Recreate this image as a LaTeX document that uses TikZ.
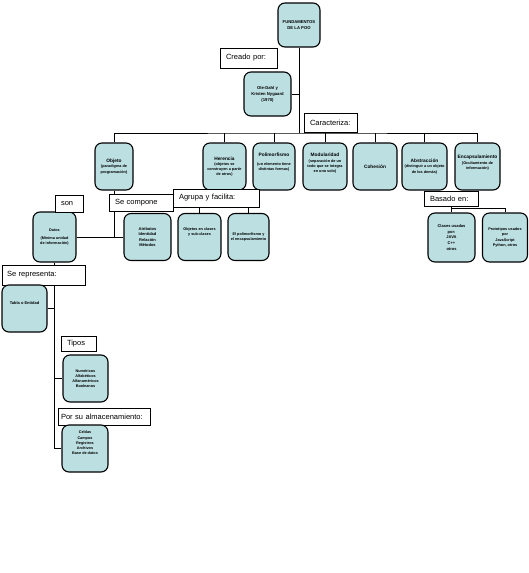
\documentclass[tikz,border=0pt]{standalone}
\usepackage{fontspec}
\setmainfont{Liberation Sans}
\usetikzlibrary{backgrounds}
\definecolor{boxblue}{RGB}{188,223,226}
\begin{document}
\begin{tikzpicture}[x=1pt,y=-1pt,
  box/.style={draw, line width=1.1pt, rounded corners=7pt, fill=boxblue, align=center, inner sep=1pt, font=\fontsize{3.8}{5.2}\selectfont\bfseries},
  lbl/.style={draw, line width=0.9pt, fill=white, align=left, inner ysep=0pt, inner xsep=6pt, font=\fontsize{7.5}{9}\selectfont},
  conn/.style={line width=2.2pt}]
\useasboundingbox (0,0) rectangle (528,573);

% top
\node[box, minimum width=42pt, minimum height=44pt, font=\fontsize{4.2}{6.5}\selectfont\bfseries] (fund) at (299,25) {FUNDAMENTOS\\DE LA POO};
\node[lbl, minimum height=20pt, text width=45pt] (creado) at (248.5,58) {Creado por:};
\node[box, minimum width=47pt, minimum height=44pt, font=\fontsize{4.2}{6}\selectfont\bfseries] (ole) at (267.5,94) {Ole-Dahl y\\Kristen Nygaard\\(1970)};
\node[lbl, minimum height=19pt, text width=41pt] (caract) at (330.5,122.5) {Caracteriza:};

% row 1
\node[box, minimum width=38pt, minimum height=47pt] (obj) at (114,166.5) {{\fontsize{4.8}{6}\selectfont Objeto}\\(paradigma de\\programación)};
\node[box, minimum width=43pt, minimum height=47pt] (her) at (224.5,166.5) {{\fontsize{4.8}{6}\selectfont Herencia}\\(objetos se\\construyen a partir\\de otros)};
\node[box, minimum width=42pt, minimum height=47pt] (pol) at (274,166.5) {{\fontsize{4.8}{6}\selectfont Polimorfismo}\\[3pt](un elemento tiene\\distintas formas)\\[4pt]\mbox{}};
\node[box, minimum width=44pt, minimum height=47pt] (mod) at (325,166.5) {{\fontsize{4.8}{6}\selectfont Modularidad}\\[1pt](separación de un\\todo que se integra\\en uno solo)\\[2pt]\mbox{}};
\node[box, minimum width=44pt, minimum height=47pt] (coh) at (375,166.5) {{\fontsize{4.8}{6}\selectfont Cohesión}};
\node[box, minimum width=45pt, minimum height=47pt] (abs) at (424.5,166.5) {{\fontsize{4.8}{6}\selectfont Abstracción}\\(distinguir a un objeto\\de los demás)};
\node[box, minimum width=45pt, minimum height=47pt] (enc) at (477.5,166.5) {{\fontsize{4.8}{6}\selectfont Encapsulamiento}\\(Ocultamiento de\\información)\\[3pt]\mbox{}};

% row 2 left
\node[box, minimum width=43pt, minimum height=50pt] (datos) at (54.5,237) {Datos\\[3pt](Mínima unidad\\de información)};
\node[box, minimum width=47pt, minimum height=47pt, font=\fontsize{4}{5.6}\selectfont\bfseries] (atr) at (147.5,237) {Atributos\\Identidad\\Relación\\Métodos};
\node[box, minimum width=43pt, minimum height=47pt] (objcl) at (199.5,237) {Objetos en clases\\y sub-clases\\[6pt]\mbox{}};
\node[box, minimum width=41pt, minimum height=47pt] (polenc) at (248.5,237) {El polimorfismo y\\el encapsulamiento};
\node[lbl, minimum height=17pt, text width=16pt] (son) at (69,203.5) {son};
\node[lbl, minimum height=17pt, text width=52pt] (secomp) at (141,202.5) {Se compone};
\node[lbl, minimum height=18pt, text width=74pt] (agrupa) at (216,198) {Agrupa y facilita:};

% right
\node[lbl, minimum height=15pt, text width=42pt] (basado) at (451,198.5) {Basado en:};
\node[box, minimum width=47pt, minimum height=49pt, font=\fontsize{4}{5.6}\selectfont\bfseries] (clases) at (451.5,237.5) {Clases usadas\\por:\\JAVA\\C++\\otros};
\node[box, minimum width=45pt, minimum height=49pt] (proto) at (505,237.5) {Prototipos usados\\por\\JavaScript\\Python, otros};

% bottom left
\node[lbl, minimum height=20pt, text width=73pt, inner xsep=5pt] (serep) at (43.5,275) {Se representa:};
\node[box, minimum width=45pt, minimum height=47pt, font=\fontsize{4}{5.6}\selectfont\bfseries] (tabla) at (24.5,308.5) {Tabla o Entidad\\[6pt]\mbox{}};
\node[lbl, minimum height=15pt, text width=23pt] (tipos) at (78.5,343.5) {Tipos};
\node[box, minimum width=45pt, minimum height=47pt] (num) at (85.5,378.5) {Numéricos\\Alfabéticos\\Alfanuméricos\\Booleanos};
\node[lbl, minimum height=17pt, text width=86pt, inner xsep=3pt] (poralm) at (104,416.5) {\mbox{Por su almacenamiento:}};
\node[box, minimum width=46pt, minimum height=47pt] (cel) at (85,448.5) {Celdas\\Campos\\Registros\\Archivos\\Base de datos\\[6pt]\mbox{}};

\begin{scope}[on background layer, conn]
  \coordinate (bar) at (299,133);
  \draw (fund.south) -- (bar);
  \draw (ole.east) -- (ole.east -| bar);
  \draw (obj.north) |- (bar) -| (enc.north);
  \foreach \n in {her,pol,mod,coh,abs} \draw (\n.north) -- (\n.north |- bar);
  \draw (obj.south) -- (obj.south |- datos.east);
  \draw (datos.east) -- (atr.west);
  \draw (agrupa.south -| objcl.north) -- (objcl.north);
  \draw (agrupa.south -| polenc.north) -- (polenc.north);
  \draw (basado.south -| clases.north) -- (clases.north);
  \coordinate (bj) at (451.5,208);
  \draw (bj) -| (proto.north);
  \draw (datos.south) |- (cel.west);
  \draw (tabla.east) -- (tabla.east -| datos.south);
  \draw (num.west) -- (num.west -| datos.south);
\end{scope}
\end{tikzpicture}
\end{document}
